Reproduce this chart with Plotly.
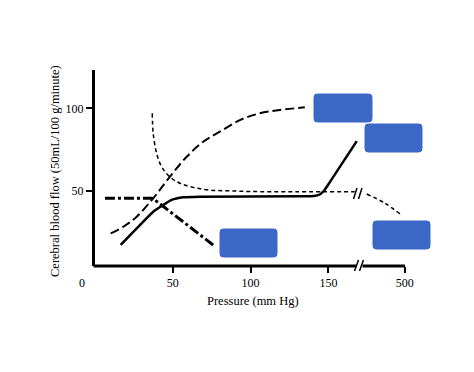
import plotly.graph_objects as go

# ---- data (x in mm Hg, with 500 drawn past an axis break) ----
solid_x = [16.5, 26.8, 37.4, 43.8, 49.2, 56.7, 67.4, 131.6, 140.6, 144.4, 147.0, 150.9, 168.2]
solid_y = [17.4, 27.4, 37.5, 41.5, 44.6, 46.2, 46.6, 46.8, 47.0, 47.9, 50.0, 55.4, 80.2]

longdash_x = [10.1, 18.2, 26.8, 37.4, 48.1, 58.9, 69.5, 80.2, 93.1, 105.9, 118.7, 134.8]
longdash_y = [24.4, 28.4, 34.5, 45.6, 58.6, 70.7, 79.8, 85.9, 92.9, 97.0, 99.0, 100.6]

shortdash_x = [36.8, 37.4, 39.6, 42.8, 48.1, 54.6, 63.1, 73.8, 86.6, 100.0, 130.0, 166.9]
shortdash_y = [97.0, 84.9, 72.8, 64.7, 58.6, 54.7, 52.2, 50.6, 50.1, 49.7, 49.6, 49.6]
shortdash2_x = [174.6, 186.2, 197.1]
shortdash2_y = [48.2, 42.7, 35.4]

dashdot_x = [6.4, 36.4, 38.5, 75.9]
dashdot_y = [45.6, 45.6, 44.6, 17.4]

x_tickvals = [50, 100, 150, 199]
x_ticktext = ["50", "100", "150", "500"]
y_tickvals = [50, 100]
y_ticktext = ["50", "100"]

W, H = 474, 372
OFF = 8                      # page body margin
PL, PR, PT, PB = 95, 405, 70, 266   # plot area in page pixels
PW, PH = PR - PL, PB - PT
ML, MT = PL - OFF, PT - OFF
MR, MB = W - ML - PW, H - MT - PH


def px2paper(px, py):
    return (px - PL) / PW, (PB - py) / PH


def rounded_box(x0, y0, x1, y1, r=5):
    a0, b1 = px2paper(x0, y0)
    a1, b0 = px2paper(x1, y1)
    rx, ry = r / PW, r / PH
    return (f"M {a0+rx},{b0} L {a1-rx},{b0} Q {a1},{b0} {a1},{b0+ry} "
            f"L {a1},{b1-ry} Q {a1},{b1} {a1-rx},{b1} L {a0+rx},{b1} "
            f"Q {a0},{b1} {a0},{b1-ry} L {a0},{b0+ry} Q {a0},{b0} {a0+rx},{b0} Z")


fig = go.Figure()
fig.add_trace(go.Scatter(x=longdash_x, y=longdash_y, mode="lines", line_shape="spline",
                         line=dict(color="black", width=2, dash="9px,4px")))
fig.add_trace(go.Scatter(x=shortdash_x, y=shortdash_y, mode="lines", line_shape="spline",
                         line=dict(color="black", width=1.5, dash="4px,3px")))
fig.add_trace(go.Scatter(x=shortdash2_x, y=shortdash2_y, mode="lines", line_shape="spline",
                         line=dict(color="black", width=1.5, dash="4px,3px")))
fig.add_trace(go.Scatter(x=dashdot_x, y=dashdot_y, mode="lines",
                         line=dict(color="black", width=3, dash="10px,3px,3px,3px")))
fig.add_trace(go.Scatter(x=solid_x, y=solid_y, mode="lines", line_shape="spline",
                         line=dict(color="black", width=2.5, smoothing=0.5)))

family = "Liberation Serif, Times New Roman, serif"
tfont = dict(family=family, size=12, color="black")
title_font = dict(family=family, size=12.5, color="black")

shapes = []
for a, b in [(PL - 1.5, 356.5), (362.5, PR)]:
    xa, ya = px2paper(a, PB)
    xb, _ = px2paper(b, PB)
    shapes.append(dict(type="line", xref="paper", yref="paper", x0=xa, x1=xb, y0=ya, y1=ya,
                       line=dict(color="black", width=3)))
for (x0, y0, x1, y1) in [(354.5, 271, 358.5, 260), (359.5, 271, 363.5, 260),
                         (353.5, 199, 357, 188), (358.5, 199, 362, 188)]:
    a, b = px2paper(x0, y0)
    c, d = px2paper(x1, y1)
    shapes.append(dict(type="line", xref="paper", yref="paper", x0=a, y0=b, x1=c, y1=d,
                       line=dict(color="black", width=1.5)))
for (x0, y0, x1, y1) in [(313, 93, 373, 123), (364, 123, 423, 153),
                         (372, 220, 431, 250), (219, 228, 278, 258)]:
    shapes.append(dict(type="path", xref="paper", yref="paper", path=rounded_box(x0, y0, x1, y1),
                       fillcolor="#3b67c6", line=dict(color="white", width=1), layer="above"))

ax, ay = px2paper(55, 171)
bx, by = px2paper(252.5, 301)
cx, cy = px2paper(81.7, 283)
annotations = [
    dict(text="Cerebral blood flow (50mL/100 g/minute)", xref="paper", yref="paper",
         x=ax, y=ay, textangle=-90, showarrow=False,
         xanchor="center", yanchor="middle", font=title_font),
    dict(text="Pressure (mm Hg)", xref="paper", yref="paper", x=bx, y=by, showarrow=False,
         xanchor="center", yanchor="middle", font=title_font),
    dict(text="0", xref="paper", yref="paper", x=cx, y=cy, showarrow=False,
         xanchor="center", yanchor="middle", font=tfont),
]

fig.update_layout(
    width=W, height=H, margin=dict(l=ML, r=MR, t=MT, b=MB),
    paper_bgcolor="white", plot_bgcolor="white", showlegend=False,
    shapes=shapes, annotations=annotations, font=tfont,
    xaxis=dict(range=[0, 199.2], tickvals=x_tickvals, ticktext=x_ticktext, showgrid=False,
               zeroline=False, showline=False, ticks="outside", ticklen=6, tickwidth=1.5,
               tickcolor="black", tickfont=tfont),
    yaxis=dict(range=[4.66, 123.2], tickvals=y_tickvals, ticktext=y_ticktext, showgrid=False,
               zeroline=False, showline=True, linewidth=3, linecolor="black",
               ticks="outside", ticklen=6, tickwidth=1.5, tickcolor="black", tickfont=tfont),
)

fig.write_html("out.html")
